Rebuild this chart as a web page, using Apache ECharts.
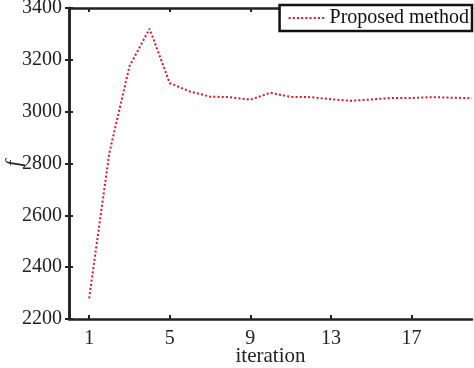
<!DOCTYPE html>
<html>
<head>
<meta charset="utf-8">
<script src="https://cdn.jsdelivr.net/npm/echarts@6/dist/echarts.min.js"></script>
<style>html,body{margin:0;padding:0;background:#fff}#c{width:474px;height:368px}</style>
</head>
<body>
<div id="c"></div>
<script>
const iterations = [1,2,3,4,5,6,7,8,9,10,11,12,13,14,15,16,17,18,19,20];
const fValues = [2280,2840,3175,3320,3110,3078,3058,3056,3046,3073,3057,3056,3048,3042,3047,3053,3053,3056,3054,3052];
const xTicks = [1,5,9,13,17];
const yTicks = [2200,2400,2600,2800,3000,3200,3400];
const seriesName = 'Proposed method';

const font = '"Liberation Serif", "Times New Roman", serif';
const chart = echarts.init(document.getElementById('c'));
const axisLine = {show:true, lineStyle:{color:'#222', width:2.5}};
chart.setOption({
  animation:false,
  grid:{left:69, right:2, top:8, bottom:49, outerBoundsMode:'none', containLabel:false},
  legend:{
    right:2, top:5, data:[seriesName],
    itemWidth:36, itemHeight:10, itemGap:4,
    padding:[3,3,3,8],
    borderColor:'#111', borderWidth:2.5, backgroundColor:'#fff',
    itemStyle:{opacity:0},
    textStyle:{fontFamily:font, fontSize:20, color:'#111'}
  },
  xAxis:[{
    type:'value', min:0, max:20, position:'bottom',
    axisLine:axisLine,
    axisTick:{show:true, inside:true, length:4, customValues:xTicks, lineStyle:{color:'#222', width:2}},
    axisLabel:{customValues:xTicks, fontFamily:font, fontSize:20, color:'#222', margin:10},
    splitLine:{show:false},
    name:'iteration', nameLocation:'middle', nameGap:27, nameMoveOverlap:false,
    nameTextStyle:{fontFamily:font, fontSize:21, color:'#222'}
  },{
    type:'value', min:0, max:20, position:'top',
    axisLine:axisLine,
    axisTick:{show:true, inside:true, length:4, customValues:xTicks, lineStyle:{color:'#222', width:2}},
    axisLabel:{show:false}, splitLine:{show:false}
  }],
  yAxis:[{
    type:'value', min:2200, max:3400, interval:200, position:'left',
    axisLine:axisLine,
    axisTick:{show:true, inside:true, length:4, lineStyle:{color:'#222', width:2}},
    axisLabel:{fontFamily:font, fontSize:20, color:'#222', margin:7,
      formatter: v => yTicks.includes(v) ? String(v) : ''},
    splitLine:{show:false},
    name:'f', nameLocation:'middle', nameGap:44, nameRotate:90, nameMoveOverlap:false,
    nameTextStyle:{fontFamily:font, fontSize:21, fontStyle:'italic', color:'#222'}
  },{
    type:'value', min:2200, max:3400, interval:200, position:'right',
    axisLine:axisLine,
    axisTick:{show:true, inside:true, length:4, lineStyle:{color:'#222', width:2}},
    axisLabel:{show:false}, splitLine:{show:false}
  }],
  series:[{
    name:seriesName, type:'line',
    data: iterations.map((x,i)=>[x, fValues[i]]),
    symbol:'none', showSymbol:false,
    lineStyle:{color:'#e3122b', width:2, type:[2,2.2]},
    itemStyle:{color:'#e3122b'}
  }]
});
</script>
</body>
</html>
